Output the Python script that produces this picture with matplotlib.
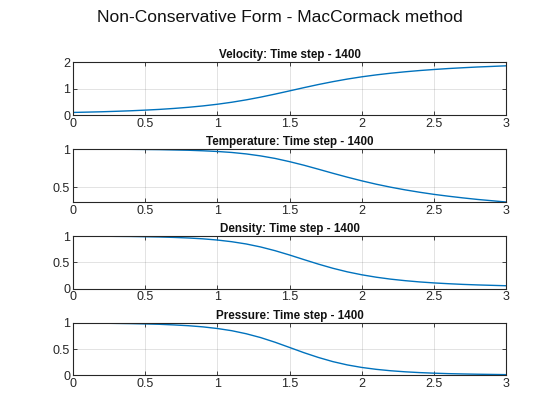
import matplotlib.pyplot as plt
import numpy as np

# =========================================================
# DATA (steady state, time step 1400)
# =========================================================

x = np.round(np.arange(0, 31) * 0.1, 1)

velocity = [0.099, 0.112, 0.125, 0.143, 0.162, 0.187, 0.215, 0.251, 0.294, 0.346,
            0.409, 0.485, 0.575, 0.678, 0.793, 0.914, 1.037, 1.155, 1.263, 1.361,
            1.446, 1.519, 1.582, 1.636, 1.683, 1.723, 1.759, 1.789, 1.817, 1.839,
            1.862]

temperature = [1.000, 0.999, 0.999, 0.998, 0.997, 0.995, 0.993, 0.989, 0.985, 0.978,
               0.969, 0.956, 0.937, 0.911, 0.878, 0.836, 0.789, 0.737, 0.684, 0.633,
               0.585, 0.541, 0.502, 0.467, 0.436, 0.408, 0.384, 0.362, 0.342, 0.325,
               0.308]

density = [1.000, 0.998, 0.997, 0.994, 0.992, 0.987, 0.982, 0.974, 0.963, 0.947,
           0.924, 0.892, 0.849, 0.792, 0.721, 0.639, 0.551, 0.465, 0.386, 0.318,
           0.262, 0.216, 0.179, 0.150, 0.126, 0.107, 0.092, 0.079, 0.069, 0.061,
           0.053]

pressure = [1.000, 0.997, 0.996, 0.992, 0.988, 0.982, 0.975, 0.963, 0.948, 0.926,
            0.895, 0.853, 0.795, 0.722, 0.633, 0.534, 0.434, 0.343, 0.264, 0.201,
            0.153, 0.117, 0.090, 0.070, 0.055, 0.044, 0.035, 0.029, 0.024, 0.020,
            0.016]

titles = ["Velocity", "Temperature", "Density", "Pressure"]
series = [velocity, temperature, density, pressure]
ylims = [(0, 2), (min(temperature), 1), (0, 1), (0, 1)]
yticks = [[0, 1, 2], [0.5, 1], [0, 0.5, 1], [0, 0.5, 1]]
ytick_labels = [["0", "1", "2"], ["0.5", "1"], ["0", "0.5", "1"], ["0", "0.5", "1"]]
xticks = [0, 0.5, 1, 1.5, 2, 2.5, 3]
xtick_labels = ["0", "0.5", "1", "1.5", "2", "2.5", "3"]
step = 1400

# =========================================================
# FIGURE
# =========================================================

plt.rcParams["font.family"] = ["Liberation Sans", "DejaVu Sans"]

fig = plt.figure(figsize=(5.6, 4.2), dpi=100)

fig.suptitle(
    "Non-Conservative Form - MacCormack method",
    y=0.975,
    fontsize=12.5,
    color="#111111"
)

# axes rows (bottom, top) in figure fraction
rows = [(0.726, 0.852), (0.519, 0.645), (0.313, 0.438), (0.106, 0.231)]

for (bottom, top), name, values, ylim, yt, ytl in zip(rows, titles, series, ylims, yticks, ytick_labels):

    ax = fig.add_axes([0.130, bottom, 0.774, top - bottom])

    ax.plot(x, values, color="#0072BD", linewidth=1.0)

    ax.set_xlim(0, 3)
    ax.set_ylim(*ylim)

    ax.set_xticks(xticks)
    ax.set_xticklabels(xtick_labels)
    ax.set_yticks(yt)
    ax.set_yticklabels(ytl)

    ax.grid(True, color="#262626", alpha=0.15, linewidth=0.6)
    ax.set_axisbelow(True)

    ax.tick_params(
        direction="in",
        top=True,
        right=True,
        length=3,
        width=0.6,
        labelsize=9,
        colors="#262626",
        pad=2
    )

    for spine in ax.spines.values():
        spine.set_color("#262626")
        spine.set_linewidth(0.8)

    ax.set_title(
        f"{name}: Time step - {step}",
        fontsize=8.4,
        fontweight="bold",
        pad=3,
        color="#111111"
    )

fig.savefig("out.png", dpi=100)
